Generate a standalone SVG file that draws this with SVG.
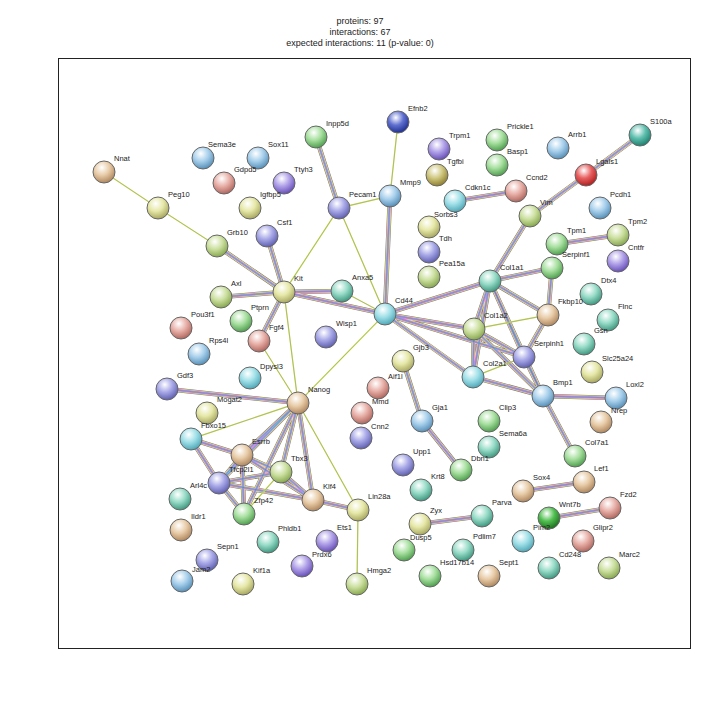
<svg xmlns="http://www.w3.org/2000/svg" xmlns:xlink="http://www.w3.org/1999/xlink" width="720" height="720" viewBox="0 0 720 720">
<style>
text{font-family:"Liberation Sans",Arial,sans-serif;font-size:7.5px;fill:#222 !important}
.t{font-size:9px;text-anchor:middle}
circle{stroke:#666;stroke-width:1}
.l1{stroke:#777;stroke-width:4.6;fill:none}
.l2{stroke:#e0f070;stroke-width:3.6;fill:none}
.l3{stroke:#ee70ee;stroke-width:2.4;fill:none}
.l4{stroke:#70d0f4;stroke-width:1.2;fill:none}
.l5{stroke:#555;stroke-width:0.4;fill:none}
.s1{stroke:#d4e860;stroke-width:1.4;fill:none}
.s2{stroke:#777;stroke-width:0.4;fill:none}
</style>
<defs>
<radialGradient id="blue" cx="40%" cy="30%" r="70%"><stop offset="0" stop-color="#fff"/><stop offset=".5" stop-color="#a8a8e8"/><stop offset="1" stop-color="#6060b0"/></radialGradient>
<radialGradient id="lblue" cx="40%" cy="30%" r="70%"><stop offset="0" stop-color="#fff"/><stop offset=".5" stop-color="#a8d0ec"/><stop offset="1" stop-color="#5890b8"/></radialGradient>
<radialGradient id="cyan" cx="40%" cy="30%" r="70%"><stop offset="0" stop-color="#fff"/><stop offset=".5" stop-color="#a0e0e8"/><stop offset="1" stop-color="#50a8b8"/></radialGradient>
<radialGradient id="teal" cx="40%" cy="30%" r="70%"><stop offset="0" stop-color="#fff"/><stop offset=".5" stop-color="#98dcc8"/><stop offset="1" stop-color="#409880"/></radialGradient>
<radialGradient id="green" cx="40%" cy="30%" r="70%"><stop offset="0" stop-color="#fff"/><stop offset=".5" stop-color="#a8e0a0"/><stop offset="1" stop-color="#50a050"/></radialGradient>
<radialGradient id="ygreen" cx="40%" cy="30%" r="70%"><stop offset="0" stop-color="#fff"/><stop offset=".5" stop-color="#cce0a0"/><stop offset="1" stop-color="#88a850"/></radialGradient>
<radialGradient id="yellow" cx="40%" cy="30%" r="70%"><stop offset="0" stop-color="#fff"/><stop offset=".5" stop-color="#e6e8a8"/><stop offset="1" stop-color="#a8a860"/></radialGradient>
<radialGradient id="tan" cx="40%" cy="30%" r="70%"><stop offset="0" stop-color="#fff"/><stop offset=".5" stop-color="#e8cca8"/><stop offset="1" stop-color="#b08860"/></radialGradient>
<radialGradient id="salmon" cx="40%" cy="30%" r="70%"><stop offset="0" stop-color="#fff"/><stop offset=".5" stop-color="#e8b0a8"/><stop offset="1" stop-color="#b06860"/></radialGradient>
<radialGradient id="red" cx="40%" cy="30%" r="70%"><stop offset="0" stop-color="#fff"/><stop offset=".5" stop-color="#e86060"/><stop offset="1" stop-color="#b02020"/></radialGradient>
<radialGradient id="purple" cx="40%" cy="30%" r="70%"><stop offset="0" stop-color="#fff"/><stop offset=".5" stop-color="#b0a0e8"/><stop offset="1" stop-color="#6850b8"/></radialGradient>
<radialGradient id="dblue" cx="40%" cy="30%" r="70%"><stop offset="0" stop-color="#fff"/><stop offset=".5" stop-color="#6070d0"/><stop offset="1" stop-color="#203090"/></radialGradient>
<radialGradient id="dgreen" cx="40%" cy="30%" r="70%"><stop offset="0" stop-color="#fff"/><stop offset=".5" stop-color="#50c050"/><stop offset="1" stop-color="#207020"/></radialGradient>
<radialGradient id="olive" cx="40%" cy="30%" r="70%"><stop offset="0" stop-color="#fff"/><stop offset=".5" stop-color="#d0c880"/><stop offset="1" stop-color="#908030"/></radialGradient>
<radialGradient id="dteal" cx="40%" cy="30%" r="70%"><stop offset="0" stop-color="#fff"/><stop offset=".5" stop-color="#60c0b0"/><stop offset="1" stop-color="#208070"/></radialGradient>
<path id="multi" d="M217,246L284,292 M267,236L284,292 M221,297L284,292 M284,292L259,341 M316,137L339,208 M390,196L385,314 M385,314L490,281 M385,314L474,329 M385,314L473,377 M385,314L524,357 M455,201L516,191 M530,216L586,175 M586,175L640,135 M530,216L490,281 M557,244L618,235 M490,281L552,268 M552,268L548,315 M490,281L548,315 M490,281L474,329 M490,281L473,377 M490,281L524,357 M490,281L543,396 M474,329L524,357 M474,329L473,377 M474,329L543,396 M548,315L524,357 M524,357L543,396 M473,377L543,396 M543,396L616,398 M543,396L575,456 M403,361L422,421 M422,421L461,470 M523,491L584,482 M549,518L610,508 M420,524L482,516 M298,403L313,500 M298,403L281,472 M298,403L242,455 M298,403L219,483 M298,403L244,514 M298,403L167,389 M191,439L242,455 M191,439L219,483 M242,455L281,472 M242,455L313,500 M242,455L219,483 M242,455L244,514 M219,483L281,472 M219,483L313,500 M219,483L244,514 M281,472L313,500 M284,292L342,291 M284,292L385,314 M313,500L358,510"/>
<path id="single" d="M104,172L158,208 M158,208L217,246 M284,292L339,208 M284,292L298,403 M339,208L390,196 M339,208L385,314 M342,291L385,314 M398,122L390,196 M385,314L298,403 M259,341L298,403 M474,329L548,315 M524,357L473,377 M358,510L357,584 M298,403L358,510 M298,403L191,439 M281,472L244,514"/>
</defs>
<rect width="720" height="720" fill="#fff"/>
<text class="t" x="360" y="24">proteins: 97</text>
<text class="t" x="360" y="35">interactions: 67</text>
<text class="t" x="360" y="46">expected interactions: 11 (p-value: 0)</text>
<rect x="58.5" y="58.5" width="632" height="590" fill="none" stroke="#222" stroke-width="1"/>
<g id="connectors">
<use xlink:href="#multi" class="l1"/><use xlink:href="#multi" class="l2"/><use xlink:href="#multi" class="l3"/><use xlink:href="#multi" class="l4"/><use xlink:href="#multi" class="l5"/>
<use xlink:href="#single" class="s1"/><use xlink:href="#single" class="s2"/>
</g>
<g id="Nnat" transform="translate(104,172)"><circle r="11" fill="url(#tan)"/><text x="10" y="-11">Nnat</text></g>
<g id="Peg10" transform="translate(158,208)"><circle r="11" fill="url(#yellow)"/><text x="10" y="-11">Peg10</text></g>
<g id="Sema3e" transform="translate(203,158)"><circle r="11" fill="url(#lblue)"/><text x="5" y="-11">Sema3e</text></g>
<g id="Sox11" transform="translate(258,158)"><circle r="11" fill="url(#lblue)"/><text x="10" y="-11">Sox11</text></g>
<g id="Gdpd5" transform="translate(224,183)"><circle r="11" fill="url(#salmon)"/><text x="10" y="-11">Gdpd5</text></g>
<g id="Ttyh3" transform="translate(284,183)"><circle r="11" fill="url(#purple)"/><text x="10" y="-11">Ttyh3</text></g>
<g id="Igfbp5" transform="translate(250,208)"><circle r="11" fill="url(#yellow)"/><text x="10" y="-11">Igfbp5</text></g>
<g id="Inpp5d" transform="translate(316,137)"><circle r="11" fill="url(#green)"/><text x="10" y="-11">Inpp5d</text></g>
<g id="Pecam1" transform="translate(339,208)"><circle r="11" fill="url(#blue)"/><text x="10" y="-11">Pecam1</text></g>
<g id="Csf1" transform="translate(267,236)"><circle r="11" fill="url(#blue)"/><text x="10" y="-11">Csf1</text></g>
<g id="Grb10" transform="translate(217,246)"><circle r="11" fill="url(#ygreen)"/><text x="10" y="-11">Grb10</text></g>
<g id="Kit" transform="translate(284,292)"><circle r="11" fill="url(#yellow)"/><text x="10" y="-11">Kit</text></g>
<g id="Axl" transform="translate(221,297)"><circle r="11" fill="url(#ygreen)"/><text x="10" y="-11">Axl</text></g>
<g id="Anxa5" transform="translate(342,291)"><circle r="11" fill="url(#teal)"/><text x="10" y="-11">Anxa5</text></g>
<g id="Ptprn" transform="translate(241,321)"><circle r="11" fill="url(#green)"/><text x="10" y="-11">Ptprn</text></g>
<g id="Pou3f1" transform="translate(181,328)"><circle r="11" fill="url(#salmon)"/><text x="10" y="-11">Pou3f1</text></g>
<g id="Fgf4" transform="translate(259,341)"><circle r="11" fill="url(#salmon)"/><text x="10" y="-11">Fgf4</text></g>
<g id="Wisp1" transform="translate(326,337)"><circle r="11" fill="url(#blue)"/><text x="10" y="-11">Wisp1</text></g>
<g id="Rps4l" transform="translate(199,354)"><circle r="11" fill="url(#lblue)"/><text x="10" y="-11">Rps4l</text></g>
<g id="Dpysl3" transform="translate(250,378)"><circle r="11" fill="url(#cyan)"/><text x="10" y="-9">Dpysl3</text></g>
<g id="Gdf3" transform="translate(167,389)"><circle r="11" fill="url(#blue)"/><text x="10" y="-11">Gdf3</text></g>
<g id="Nanog" transform="translate(298,403)"><circle r="11" fill="url(#tan)"/><text x="10" y="-11">Nanog</text></g>
<g id="Mogat2" transform="translate(207,413)"><circle r="11" fill="url(#yellow)"/><text x="10" y="-11">Mogat2</text></g>
<g id="Fbxo15" transform="translate(191,439)"><circle r="11" fill="url(#cyan)"/><text x="10" y="-11">Fbxo15</text></g>
<g id="Esrrb" transform="translate(242,455)"><circle r="11" fill="url(#tan)"/><text x="10" y="-11">Esrrb</text></g>
<g id="Tbx3" transform="translate(281,472)"><circle r="11" fill="url(#ygreen)"/><text x="10" y="-11">Tbx3</text></g>
<g id="Tfcp2l1" transform="translate(219,483)"><circle r="11" fill="url(#blue)"/><text x="10" y="-11">Tfcp2l1</text></g>
<g id="Klf4" transform="translate(313,500)"><circle r="11" fill="url(#tan)"/><text x="10" y="-11">Klf4</text></g>
<g id="Zfp42" transform="translate(244,514)"><circle r="11" fill="url(#green)"/><text x="10" y="-11">Zfp42</text></g>
<g id="Arl4c" transform="translate(180,499)"><circle r="11" fill="url(#teal)"/><text x="10" y="-11">Arl4c</text></g>
<g id="Ildr1" transform="translate(181,530)"><circle r="11" fill="url(#tan)"/><text x="10" y="-11">Ildr1</text></g>
<g id="Lin28a" transform="translate(358,510)"><circle r="11" fill="url(#yellow)"/><text x="10" y="-11">Lin28a</text></g>
<g id="Phldb1" transform="translate(268,542)"><circle r="11" fill="url(#teal)"/><text x="10" y="-11">Phldb1</text></g>
<g id="Ets1" transform="translate(327,541)"><circle r="11" fill="url(#purple)"/><text x="10" y="-11">Ets1</text></g>
<g id="Prdx6" transform="translate(302,566)"><circle r="11" fill="url(#purple)"/><text x="10" y="-9">Prdx6</text></g>
<g id="Sepn1" transform="translate(207,560)"><circle r="11" fill="url(#blue)"/><text x="10" y="-11">Sepn1</text></g>
<g id="Jam2" transform="translate(182,581)"><circle r="11" fill="url(#lblue)"/><text x="10" y="-9">Jam2</text></g>
<g id="Kif1a" transform="translate(243,584)"><circle r="11" fill="url(#yellow)"/><text x="10" y="-11">Kif1a</text></g>
<g id="Hmga2" transform="translate(357,584)"><circle r="11" fill="url(#ygreen)"/><text x="10" y="-11">Hmga2</text></g>
<g id="Efnb2" transform="translate(398,122)"><circle r="11" fill="url(#dblue)"/><text x="10" y="-11">Efnb2</text></g>
<g id="Mmp9" transform="translate(390,196)"><circle r="11" fill="url(#lblue)"/><text x="10" y="-11">Mmp9</text></g>
<g id="Cd44" transform="translate(385,314)"><circle r="11" fill="url(#cyan)"/><text x="10" y="-11">Cd44</text></g>
<g id="Trpm1" transform="translate(439,149)"><circle r="11" fill="url(#purple)"/><text x="10" y="-11">Trpm1</text></g>
<g id="Tgfbi" transform="translate(437,175)"><circle r="11" fill="url(#olive)"/><text x="10" y="-11">Tgfbi</text></g>
<g id="Prickle1" transform="translate(497,140)"><circle r="11" fill="url(#green)"/><text x="10" y="-11">Prickle1</text></g>
<g id="Basp1" transform="translate(497,165)"><circle r="11" fill="url(#green)"/><text x="10" y="-11">Basp1</text></g>
<g id="Arrb1" transform="translate(558,148)"><circle r="11" fill="url(#lblue)"/><text x="10" y="-11">Arrb1</text></g>
<g id="S100a" transform="translate(640,135)"><circle r="11" fill="url(#dteal)"/><text x="10" y="-11">S100a</text></g>
<g id="Lgals1" transform="translate(586,175)"><circle r="11" fill="url(#red)"/><text x="10" y="-11">Lgals1</text></g>
<g id="Cdkn1c" transform="translate(455,201)"><circle r="11" fill="url(#cyan)"/><text x="10" y="-11">Cdkn1c</text></g>
<g id="Ccnd2" transform="translate(516,191)"><circle r="11" fill="url(#salmon)"/><text x="10" y="-11">Ccnd2</text></g>
<g id="Sorbs3" transform="translate(429,227)"><circle r="11" fill="url(#yellow)"/><text x="5" y="-10">Sorbs3</text></g>
<g id="Vim" transform="translate(530,216)"><circle r="11" fill="url(#ygreen)"/><text x="10" y="-11">Vim</text></g>
<g id="Pcdh1" transform="translate(600,208)"><circle r="11" fill="url(#lblue)"/><text x="10" y="-11">Pcdh1</text></g>
<g id="Tdh" transform="translate(429,252)"><circle r="11" fill="url(#blue)"/><text x="10" y="-11">Tdh</text></g>
<g id="Tpm1" transform="translate(557,244)"><circle r="11" fill="url(#green)"/><text x="10" y="-11">Tpm1</text></g>
<g id="Tpm2" transform="translate(618,235)"><circle r="11" fill="url(#ygreen)"/><text x="10" y="-11">Tpm2</text></g>
<g id="Cntfr" transform="translate(618,261)"><circle r="11" fill="url(#purple)"/><text x="10" y="-11">Cntfr</text></g>
<g id="Pea15a" transform="translate(429,277)"><circle r="11" fill="url(#ygreen)"/><text x="10" y="-11">Pea15a</text></g>
<g id="Col1a1" transform="translate(490,281)"><circle r="11" fill="url(#teal)"/><text x="10" y="-11">Col1a1</text></g>
<g id="Serpinf1" transform="translate(552,268)"><circle r="11" fill="url(#green)"/><text x="10" y="-11">Serpinf1</text></g>
<g id="Dtx4" transform="translate(591,294)"><circle r="11" fill="url(#teal)"/><text x="10" y="-11">Dtx4</text></g>
<g id="Fkbp10" transform="translate(548,315)"><circle r="11" fill="url(#tan)"/><text x="10" y="-11">Fkbp10</text></g>
<g id="Flnc" transform="translate(608,320)"><circle r="11" fill="url(#teal)"/><text x="10" y="-11">Flnc</text></g>
<g id="Col1a2" transform="translate(474,329)"><circle r="11" fill="url(#ygreen)"/><text x="10" y="-11">Col1a2</text></g>
<g id="Gsn" transform="translate(584,344)"><circle r="11" fill="url(#teal)"/><text x="10" y="-11">Gsn</text></g>
<g id="Serpinh1" transform="translate(524,357)"><circle r="11" fill="url(#blue)"/><text x="10" y="-11">Serpinh1</text></g>
<g id="Col2a1" transform="translate(473,377)"><circle r="11" fill="url(#cyan)"/><text x="10" y="-11">Col2a1</text></g>
<g id="Slc25a24" transform="translate(592,372)"><circle r="11" fill="url(#yellow)"/><text x="10" y="-11">Slc25a24</text></g>
<g id="Bmp1" transform="translate(543,396)"><circle r="11" fill="url(#lblue)"/><text x="10" y="-11">Bmp1</text></g>
<g id="Loxl2" transform="translate(616,398)"><circle r="11" fill="url(#lblue)"/><text x="10" y="-11">Loxl2</text></g>
<g id="Nrep" transform="translate(601,422)"><circle r="11" fill="url(#tan)"/><text x="10" y="-9">Nrep</text></g>
<g id="Gjb3" transform="translate(403,361)"><circle r="11" fill="url(#yellow)"/><text x="10" y="-11">Gjb3</text></g>
<g id="Aif1l" transform="translate(378,388)"><circle r="11" fill="url(#salmon)"/><text x="10" y="-9">Aif1l</text></g>
<g id="Mmd" transform="translate(362,413)"><circle r="11" fill="url(#salmon)"/><text x="10" y="-9">Mmd</text></g>
<g id="Cnn2" transform="translate(361,438)"><circle r="11" fill="url(#blue)"/><text x="10" y="-9">Cnn2</text></g>
<g id="Gja1" transform="translate(422,421)"><circle r="11" fill="url(#lblue)"/><text x="10" y="-11">Gja1</text></g>
<g id="Clip3" transform="translate(489,421)"><circle r="11" fill="url(#green)"/><text x="10" y="-11">Clip3</text></g>
<g id="Sema6a" transform="translate(489,447)"><circle r="11" fill="url(#teal)"/><text x="10" y="-11">Sema6a</text></g>
<g id="Upp1" transform="translate(403,465)"><circle r="11" fill="url(#blue)"/><text x="10" y="-11">Upp1</text></g>
<g id="Dbn1" transform="translate(461,470)"><circle r="11" fill="url(#green)"/><text x="10" y="-9">Dbn1</text></g>
<g id="Col7a1" transform="translate(575,456)"><circle r="11" fill="url(#green)"/><text x="10" y="-11">Col7a1</text></g>
<g id="Lef1" transform="translate(584,482)"><circle r="11" fill="url(#tan)"/><text x="10" y="-11">Lef1</text></g>
<g id="Sox4" transform="translate(523,491)"><circle r="11" fill="url(#tan)"/><text x="10" y="-11">Sox4</text></g>
<g id="Krt8" transform="translate(421,490)"><circle r="11" fill="url(#teal)"/><text x="10" y="-11">Krt8</text></g>
<g id="Wnt7b" transform="translate(549,518)"><circle r="11" fill="url(#dgreen)"/><text x="10" y="-11">Wnt7b</text></g>
<g id="Fzd2" transform="translate(610,508)"><circle r="11" fill="url(#salmon)"/><text x="10" y="-11">Fzd2</text></g>
<g id="Zyx" transform="translate(420,524)"><circle r="11" fill="url(#yellow)"/><text x="10" y="-11">Zyx</text></g>
<g id="Parva" transform="translate(482,516)"><circle r="11" fill="url(#teal)"/><text x="10" y="-11">Parva</text></g>
<g id="Dusp5" transform="translate(404,550)"><circle r="11" fill="url(#green)"/><text x="6" y="-10">Dusp5</text></g>
<g id="Pim2" transform="translate(523,541)"><circle r="11" fill="url(#cyan)"/><text x="10" y="-11">Pim2</text></g>
<g id="Glipr2" transform="translate(583,541)"><circle r="11" fill="url(#salmon)"/><text x="10" y="-11">Glipr2</text></g>
<g id="Pdlim7" transform="translate(463,550)"><circle r="11" fill="url(#teal)"/><text x="10" y="-11">Pdlim7</text></g>
<g id="Hsd17b14" transform="translate(430,576)"><circle r="11" fill="url(#green)"/><text x="10" y="-11">Hsd17b14</text></g>
<g id="Sept1" transform="translate(489,576)"><circle r="11" fill="url(#tan)"/><text x="10" y="-11">Sept1</text></g>
<g id="Cd248" transform="translate(549,568)"><circle r="11" fill="url(#teal)"/><text x="10" y="-11">Cd248</text></g>
<g id="Marc2" transform="translate(609,568)"><circle r="11" fill="url(#ygreen)"/><text x="10" y="-11">Marc2</text></g>
</svg>
